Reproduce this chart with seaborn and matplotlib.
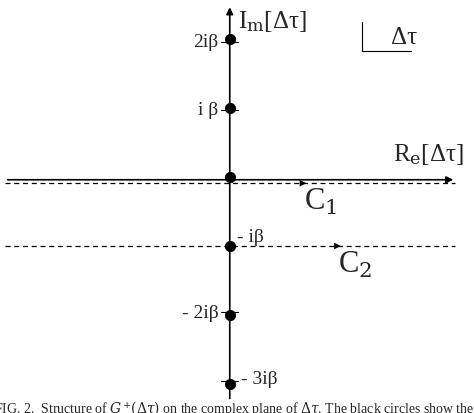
import numpy as np
import matplotlib
matplotlib.use("Agg")
import matplotlib.pyplot as plt
import seaborn as sns

# poles on the imaginary axis, in units of i*beta
pole_im = [2, 1, 0, -1, -2, -3]
tick_im = [1.95, 0.97, -1.95, -2.96]
tick_labels = ["2i\u03b2", "i \u03b2", "- 2i\u03b2", "- 3i\u03b2"]
contour_y = {"C$_1$": -0.09, "C$_2$": -1.0}

sns.set_theme(style="white")
plt.rcParams["font.family"] = ["Liberation Serif", "DejaVu Serif"]
plt.rcParams["mathtext.fontset"] = "dejavuserif"

fig = plt.figure(figsize=(4.74, 4.13), dpi=100)
ax = fig.add_axes([0, 0, 1, 1])
ax.set_xlim(-3.33, 3.54)
ax.set_ylim(-3.42, 2.565)
ax.axis("off")

# axes with arrows
ax.annotate("", xy=(0, 2.5), xytext=(0, -3.25),
            arrowprops=dict(arrowstyle="-|>", color="black", lw=1.2, mutation_scale=10))
ax.annotate("", xy=(3.28, -0.04), xytext=(-3.26, -0.04),
            arrowprops=dict(arrowstyle="-|>", color="black", lw=1.2, mutation_scale=10))

# poles
sns.scatterplot(x=[0] * len(pole_im), y=pole_im, color="black", s=55, ax=ax,
                zorder=5, edgecolor="black")

# tick marks
for t in tick_im:
    ax.plot([-0.12, 0.12], [t, t], color="black", lw=0.8)

# tick labels
ax.text(-0.16, 1.95, tick_labels[0], ha="right", va="center", fontsize=14)
ax.text(-0.16, 0.97, tick_labels[1], ha="right", va="center", fontsize=14)
ax.text(0.1, -0.87, "- i\u03b2", ha="left", va="center", fontsize=14)
ax.text(-0.16, -1.98, tick_labels[2], ha="right", va="center", fontsize=14)
ax.text(0.16, -2.93, tick_labels[3], ha="left", va="center", fontsize=14)

# contours
arrow_x = {"C$_1$": 1.05, "C$_2$": 1.55}
for name, y in contour_y.items():
    ax.plot([-3.26, 3.26], [y, y], color="black", lw=0.9, ls=(0, (4, 3)))
    ax.annotate("", xy=(arrow_x[name] + 0.1, y), xytext=(arrow_x[name] - 0.3, y),
                arrowprops=dict(arrowstyle="-|>", color="black", lw=0, mutation_scale=12))
    ax.text(arrow_x[name] + 0.02, y - 0.27, name, fontsize=22, ha="left", va="center")

ax.text(0.12, 2.26, "I$_{\\rm m}$[\u0394\u03c4]", fontsize=18, ha="left", va="center")
ax.text(2.36, 0.32, "R$_{\\rm e}$[\u0394\u03c4]", fontsize=18, ha="left", va="center")

# top right label box
ax.text(2.33, 2.02, "\u0394\u03c4", fontsize=18, ha="left", va="center")
ax.plot([1.91, 1.91, 2.62], [2.25, 1.83, 1.83], color="black", lw=0.8)

ax.text(-3.42, -3.36, "FIG. 2.  Structure of $G^{+}(\\Delta\\tau)$ on the complex plane of "
        "$\\Delta\\tau$. The black circles show the positio", fontsize=10, ha="left",
        va="center")

fig.savefig("out.png", dpi=100)
